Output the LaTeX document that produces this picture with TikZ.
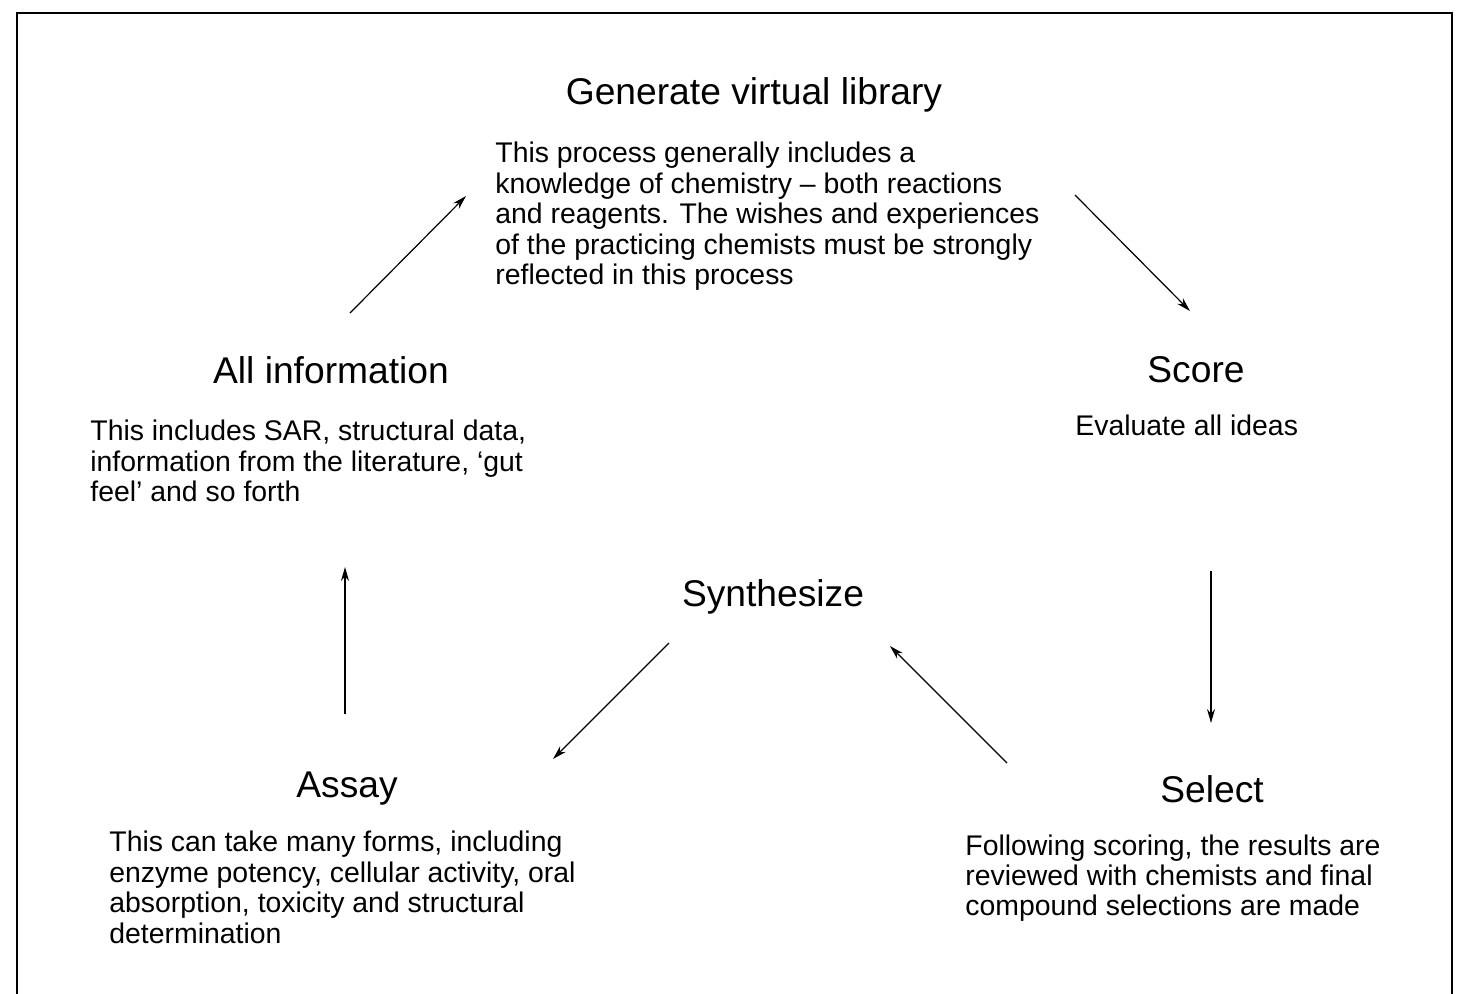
\documentclass[tikz,border=0pt]{standalone}
\usepackage{fontspec}
\setmainfont{Liberation Sans}
\usetikzlibrary{arrows.meta}
\begin{document}
\begin{tikzpicture}[x=0.5pt,y=-0.5pt,
 ttl/.style={font=\fontsize{18.6}{22}\selectfont,inner sep=0},
 body/.style={font=\fontsize{14.2}{15.2}\selectfont,anchor=north west,inner sep=0,align=left},
 arr/.style={-{Stealth[length=7pt,width=4pt]},line width=0.6pt}]
\useasboundingbox (0,0) rectangle (1462,993);
\draw[line width=0.6pt] (17,1010) -- (17,13) -- (1452,13) -- (1452,1010);
\node[ttl] (t1) at (754,95) {Generate virtual library};
\node[body] (b1) at (495,142) {This process generally includes a\\knowledge of chemistry -- both reactions\\and reagents. The wishes and experiences\\of the practicing chemists must be strongly\\reflected in this process};
\node[ttl] (t2) at (331,370) {All information};
\node[body] (b2) at (90,420) {This includes SAR, structural data,\\information from the literature, ‘gut\\feel’ and so forth};
\node[ttl] (t3) at (1196,370) {Score};
\node[body] (b3) at (1075,415) {Evaluate all ideas};
\node[ttl] (t4) at (773,597) {Synthesize};
\node[ttl] (t5) at (347,789) {Assay};
\node[body] (b5) at (109,831) {This can take many forms, including\\enzyme potency, cellular activity, oral\\absorption, toxicity and structural\\determination};
\node[ttl] (t6) at (1212,789) {Select};
\node[body] (b6) at (965,834) {Following scoring, the results are\\reviewed with chemists and final\\compound selections are made};
\coordinate (a1s) at (350,313); \coordinate (a1e) at (466,196);
\coordinate (a2s) at (1075,195); \coordinate (a2e) at (1190,311);
\coordinate (a3s) at (1211,571); \coordinate (a3e) at (1211,723);
\coordinate (a4s) at (1007,763); \coordinate (a4e) at (890,646);
\coordinate (a5s) at (669,643); \coordinate (a5e) at (553,759);
\coordinate (a6s) at (345,714); \coordinate (a6e) at (345,567);
\foreach \i in {1,...,6} \draw[arr] (a\i s) -- (a\i e);
\end{tikzpicture}
\end{document}
